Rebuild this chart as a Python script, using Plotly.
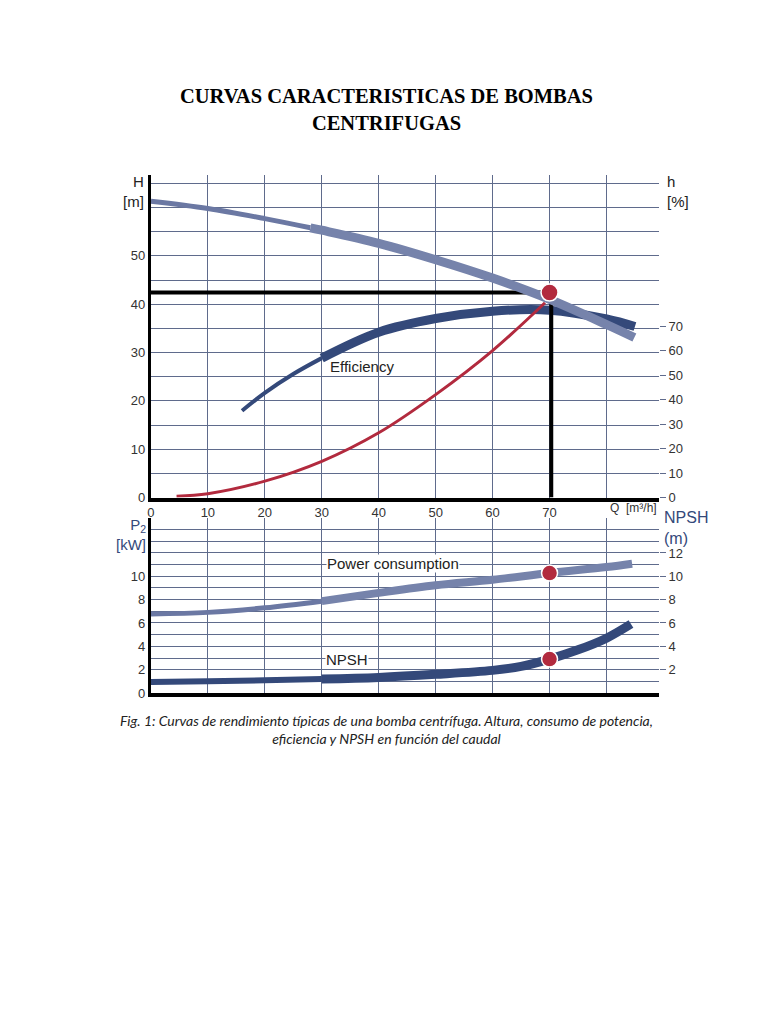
import plotly.graph_objects as go

# ---------------- data ----------------
head_Q = [0, 10, 20, 28, 30, 40, 50, 60, 70, 80, 84.9]
head_H = [61.3, 59.8, 57.7, 55.8, 55.3, 52.6, 49.2, 45.4, 41.0, 35.8, 33.1]

eff_Q = [16, 20, 25, 30, 40, 50, 60, 70, 80, 85]
eff_pct = [35.5, 42.8, 50.5, 57.0, 67.6, 73.2, 76.2, 76.6, 73.0, 69.9]

sys_Q = [4.5, 10, 20, 30, 40, 50, 60, 69.2]
sys_H = [0.3, 0.8, 3.4, 7.5, 13.4, 21.3, 30.4, 40.3]

pow_Q = [0, 10, 20, 30, 40, 50, 60, 70, 80, 84.5]
pow_kW = [6.77, 6.91, 7.30, 7.87, 8.58, 9.23, 9.70, 10.28, 10.79, 11.08]

npsh_Q = [0, 10, 20, 30, 40, 50, 60, 65, 70, 75, 80, 84.3]
npsh_m = [0.95, 1.0, 1.09, 1.21, 1.34, 1.6, 1.94, 2.28, 2.91, 3.70, 4.70, 5.91]

op_Q = 70
op_H = 42.4
op_P = 10.28
op_NPSH = 2.91

x_ticks = [0, 10, 20, 30, 40, 50, 60, 70]
H_ticks = [0, 10, 20, 30, 40, 50]
h_ticks = [0, 10, 20, 30, 40, 50, 60, 70]
P_ticks = [0, 2, 4, 6, 8, 10]
N_ticks = [2, 4, 6, 8, 10, 12]

# ---------------- styles ----------------
LIGHT = "#7683ab"
LIGHT_THIN = "#6b78a3"
DARK = "#34497a"
RED = "#b22a3e"
GRID = "#5f6b8c"
FONT = "Liberation Sans"
W, H = 768, 1024


def px(x):
    return x / W


def py(y):
    return 1 - y / H


def part(qs, vs, lo=None, hi=None):
    xs, ys = [], []
    for q, v in zip(qs, vs):
        if (lo is None or q >= lo) and (hi is None or q <= hi):
            xs.append(q)
            ys.append(v)
    return xs, ys


def line(fig, qs, vs, xa, ya, color, width):
    fig.add_trace(go.Scatter(x=qs, y=vs, xaxis=xa, yaxis=ya, mode="lines",
                             line=dict(color=color, width=width, shape="spline", smoothing=1.0),
                             hoverinfo="skip"))


def dot(fig, q, v, xa, ya, size):
    fig.add_trace(go.Scatter(x=[q], y=[v], xaxis=xa, yaxis=ya, mode="markers",
                             marker=dict(color=RED, size=size, line=dict(color="white", width=1.5)),
                             hoverinfo="skip"))


fig = go.Figure()

# black operating lines (H axis = y2)
fig.add_trace(go.Scatter(x=[0, op_Q - 1], y=[op_H, op_H], xaxis="x", yaxis="y2",
                         mode="lines", line=dict(color="black", width=4), hoverinfo="skip"))
fig.add_trace(go.Scatter(x=[op_Q + 0.3, op_Q + 0.3], y=[0, op_H - 1], xaxis="x", yaxis="y2",
                         mode="lines", line=dict(color="black", width=4), hoverinfo="skip"))

# efficiency on base axis y (percent)
xs, ys = part(eff_Q, eff_pct, hi=30)
line(fig, xs, ys, "x", "y", DARK, 4)
xs, ys = part(eff_Q, eff_pct, lo=30)
line(fig, xs, ys, "x", "y", DARK, 9)

# system curve (red)
line(fig, sys_Q, sys_H, "x", "y2", RED, 3)

# head curve
xs, ys = part(head_Q, head_H, hi=28)
line(fig, xs, ys, "x", "y2", LIGHT_THIN, 5)
xs, ys = part(head_Q, head_H, lo=28)
line(fig, xs, ys, "x", "y2", LIGHT, 9)

dot(fig, op_Q, op_H, "x", "y2", 17)

# power consumption
xs, ys = part(pow_Q, pow_kW, hi=30)
line(fig, xs, ys, "x2", "y3", LIGHT_THIN, 5)
xs, ys = part(pow_Q, pow_kW, lo=30)
line(fig, xs, ys, "x2", "y3", LIGHT, 8)
dot(fig, op_Q, op_P, "x2", "y3", 16)

# NPSH
xs, ys = part(npsh_Q, npsh_m, hi=30)
line(fig, xs, ys, "x2", "y4", DARK, 6)
xs, ys = part(npsh_Q, npsh_m, lo=30)
line(fig, xs, ys, "x2", "y4", DARK, 9)
dot(fig, op_Q, op_NPSH, "x2", "y4", 16)

xdom = [px(147.7), px(658.3)]
top_dom = [py(501.5), py(176)]
bot_dom = [py(698.5), py(522)]
tickfont = dict(family=FONT, size=13, color="#333333")

fig.update_layout(
    width=W, height=H, autosize=False,
    margin=dict(l=0, r=0, t=0, b=0),
    paper_bgcolor="white", plot_bgcolor="rgba(0,0,0,0)",
    showlegend=False,
    xaxis=dict(domain=xdom, anchor="y2", range=[0, 89.2], tickmode="array", tickvals=x_ticks,
               showgrid=True, gridcolor=GRID, gridwidth=1,
               minor=dict(dtick=10, tick0=0, showgrid=True, gridcolor=GRID, gridwidth=1),
               showline=True, linecolor="black", linewidth=4, ticks="", tickfont=tickfont,
               zeroline=False, fixedrange=True),
    yaxis=dict(domain=top_dom, anchor="x", side="right", range=[0, 132], tickmode="array",
               tickvals=h_ticks, showgrid=False, zeroline=False, showline=False,
               ticks="outside", ticklen=6, tickcolor=GRID, tickwidth=1, tickfont=tickfont),
    yaxis2=dict(overlaying="y", anchor="x", side="left", range=[0, 66.8], tickmode="array",
                tickvals=H_ticks, showgrid=True, gridcolor=GRID, gridwidth=1,
                minor=dict(dtick=5, tick0=0, showgrid=True, gridcolor=GRID, gridwidth=1),
                showline=True, linecolor="black", linewidth=3, ticks="", zeroline=False,
                tickfont=tickfont),
    xaxis2=dict(domain=xdom, anchor="y3", range=[0, 89.2], tickmode="array", tickvals=x_ticks,
                showticklabels=False, showgrid=True, gridcolor=GRID, gridwidth=1,
                minor=dict(dtick=10, tick0=0, showgrid=True, gridcolor=GRID, gridwidth=1),
                showline=True, linecolor="black", linewidth=4, ticks="", zeroline=False),
    yaxis3=dict(domain=bot_dom, anchor="x2", side="left", range=[0, 15], tickmode="array",
                tickvals=P_ticks, showgrid=True, gridcolor=GRID, gridwidth=1,
                minor=dict(dtick=1, tick0=0, showgrid=True, gridcolor=GRID, gridwidth=1),
                showline=True, linecolor="black", linewidth=3, ticks="", zeroline=False,
                tickfont=tickfont),
    yaxis4=dict(overlaying="y3", anchor="x2", side="right", range=[0, 15], tickmode="array",
                tickvals=N_ticks, showgrid=False, zeroline=False, showline=False,
                ticks="outside", ticklen=6, tickcolor=GRID, tickwidth=1, tickfont=tickfont),
)

ann = []
ann.append(dict(text="<b>CURVAS CARACTERISTICAS DE BOMBAS<br>CENTRIFUGAS</b>", x=px(384), y=py(110),
                xref="paper", yref="paper", showarrow=False, xanchor="center", yanchor="middle",
                font=dict(family="Liberation Serif", size=20.5, color="black")))
ann.append(dict(text="<i>Fig. 1: Curvas de rendimiento típicas de una bomba centrífuga. Altura, consumo de potencia,<br>"
                     "eficiencia y NPSH en función del caudal</i>", x=px(384), y=py(735),
                xref="paper", yref="paper", showarrow=False, xanchor="center", yanchor="middle",
                font=dict(family="Lato", size=14, color="#222222")))
ann.append(dict(text="H<br>[m]", x=px(143), y=py(172), xref="paper", yref="paper", showarrow=False,
                xanchor="right", yanchor="top", align="right",
                font=dict(family=FONT, size=15, color="#222222")))
ann.append(dict(text="h<br>[%]", x=px(664), y=py(172), xref="paper", yref="paper", showarrow=False,
                xanchor="left", yanchor="top", align="left",
                font=dict(family=FONT, size=15, color="#222222")))
ann.append(dict(text="P<sub>2</sub><br>[kW]", x=px(145), y=py(518), xref="paper", yref="paper",
                showarrow=False, xanchor="right", yanchor="top", align="right",
                font=dict(family=FONT, size=15, color=DARK)))
ann.append(dict(text="NPSH<br>(m)", x=px(661), y=py(511), xref="paper", yref="paper",
                showarrow=False, xanchor="left", yanchor="top", align="left",
                font=dict(family=FONT, size=16, color=DARK)))
ann.append(dict(text="Q  [m³/h]", x=px(658), y=py(512), xref="paper", yref="paper",
                showarrow=False, xanchor="right", yanchor="middle",
                font=dict(family=FONT, size=12, color="#333333")))
ann.append(dict(text="Efficiency", x=px(326), y=py(369), xref="paper", yref="paper",
                showarrow=False, xanchor="left", yanchor="middle",
                font=dict(family=FONT, size=15, color="#222222")))
ann.append(dict(text="Power consumption", x=px(324), y=py(568), xref="paper", yref="paper",
                showarrow=False, xanchor="left", yanchor="middle", bgcolor="white",
                borderpad=0, font=dict(family=FONT, size=15, color="#222222")))
ann.append(dict(text="NPSH", x=px(323), y=py(665), xref="paper", yref="paper",
                showarrow=False, xanchor="left", yanchor="middle", bgcolor="white",
                borderpad=0, font=dict(family=FONT, size=15, color="#222222")))
fig.update_layout(annotations=ann)

fig.write_html("out.html", config=dict(displayModeBar=False),
               post_script="document.body.style.margin='0';document.body.style.overflow='hidden';")
